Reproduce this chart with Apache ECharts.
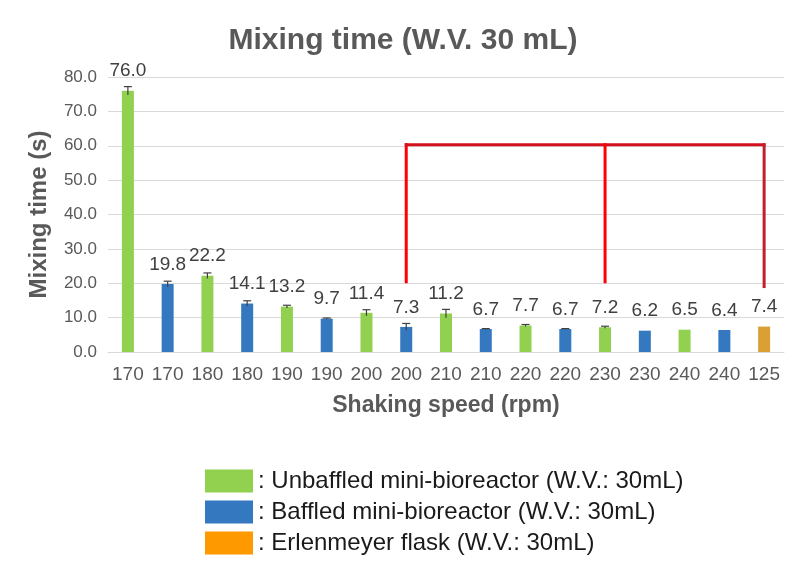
<!DOCTYPE html>
<html>
<head>
<meta charset="utf-8">
<script src="https://cdn.jsdelivr.net/npm/echarts@6/dist/echarts.min.js"></script>
<style>
  html, body { margin: 0; padding: 0; background: #fff; }
  #chart { width: 806px; height: 573px; }
</style>
</head>
<body>
<div id="chart"></div>
<script>
// shaking speed for each bar
const speeds = ['170', '170', '180', '180', '190', '190', '200', '200', '210', '210', '220', '220', '230', '230', '240', '240', '125']
// mixing time (s)
const mixTimes = [76.0, 19.8, 22.2, 14.1, 13.2, 9.7, 11.4, 7.3, 11.2, 6.7, 7.7, 6.7, 7.2, 6.2, 6.5, 6.4, 7.4]
// 0 = unbaffled, 1 = baffled, 2 = erlenmeyer
const vessel = [0, 1, 0, 1, 0, 1, 0, 1, 0, 1, 0, 1, 0, 1, 0, 1, 2]
// error bar (+/-)
const errors = [1.2, 0.8, 0.8, 0.8, 0.4, 0.2, 0.9, 1.0, 1.2, 0.1, 0.3, 0.1, 0.3, 0, 0, 0, 0]
const yTicks = [0, 10, 20, 30, 40, 50, 60, 70, 80]

const vesselNames = [
  'Unbaffled mini-bioreactor (W.V.: 30mL)',
  'Baffled mini-bioreactor (W.V.: 30mL)',
  'Erlenmeyer flask (W.V.: 30mL)'
]
const barColors = ['#92d050', '#3478bf', '#d9a035']
const legendColors = ['#92d050', '#3478bf', '#ff9900']

// red bracket: legs at category index, bottom value; shared top
const bracketLegs = [[7, 20.0], [12, 20.0], [16, 18.6]]
const bracketTop = 60.3

const chart = echarts.init(document.getElementById('chart'))

// one bar series per vessel type, placed on the same slot
const barSeries = vesselNames.map((name, g) => ({
  name,
  type: 'bar',
  barWidth: 12,
  barGap: '-100%',
  itemStyle: { color: barColors[g] },
  label: {
    show: true,
    position: 'top',
    distance: 10,
    fontSize: 19,
    color: '#404040',
    formatter: p => p.value.toFixed(1)
  },
  data: mixTimes.map((v, i) => vessel[i] === g ? v : '-')
}))

const errorSeries = {
  type: 'custom',
  silent: true,
  z: 5,
  data: mixTimes.map((v, i) => [i, v + errors[i], v - errors[i], errors[i]]),
  renderItem(params, api) {
    if (api.value(3) <= 0) return null
    const hi = api.coord([api.value(0), api.value(1)])
    const lo = api.coord([api.value(0), api.value(2)])
    const half = 4
    const style = { stroke: '#404040', lineWidth: 1.2 }
    return {
      type: 'group',
      children: [
        { type: 'line', shape: { x1: hi[0], y1: hi[1], x2: lo[0], y2: lo[1] }, style },
        { type: 'line', shape: { x1: hi[0] - half, y1: hi[1], x2: hi[0] + half, y2: hi[1] }, style }
      ]
    }
  }
}

const bracketSeries = {
  type: 'custom',
  silent: true,
  z: 6,
  data: bracketLegs.map((b, i) => [b[0], b[1], i]),
  renderItem(params, api) {
    const idx = api.value(2)
    const bottom = api.coord([api.value(0), api.value(1)])
    const top = api.coord([api.value(0), bracketTop])
    const children = [{
      type: 'line',
      shape: { x1: bottom[0], y1: bottom[1], x2: top[0], y2: top[1] - 1.5 },
      style: { stroke: idx === bracketLegs.length - 1 ? '#c0202a' : '#ff0000', lineWidth: 3 }
    }]
    if (idx === 0) {
      const last = bracketLegs[bracketLegs.length - 1]
      const end = api.coord([last[0], bracketTop])
      children.push({
        type: 'line',
        shape: { x1: top[0] - 1.5, y1: top[1], x2: end[0] + 1.5, y2: end[1] },
        style: { stroke: '#d4101c', lineWidth: 3 }
      })
    }
    return { type: 'group', children }
  }
}

chart.setOption({
  animation: false,
  textStyle: { fontFamily: 'Liberation Sans' },
  title: {
    text: 'Mixing time (W.V. 30 mL)',
    left: 'center',
    top: 21,
    textStyle: { fontSize: 30, fontWeight: 'bold', color: '#595959' }
  },
  legend: {
    orient: 'vertical',
    left: 200,
    top: 464,
    itemWidth: 48,
    itemHeight: 23,
    itemGap: 7,
    icon: 'rect',
    selectedMode: false,
    formatter: name => ': ' + name,
    textStyle: { fontSize: 24, lineHeight: 24, color: '#1a1a1a' },
    data: vesselNames.map((name, g) => ({ name, itemStyle: { color: legendColors[g] } }))
  },
  grid: { left: 108, right: 22, top: 77, bottom: 221 },
  xAxis: {
    type: 'category',
    data: speeds,
    name: 'Shaking speed (rpm)',
    nameLocation: 'middle',
    nameGap: 42,
    nameTextStyle: { fontSize: 23, fontWeight: 'bold', color: '#595959' },
    axisLine: { lineStyle: { color: '#d9d9d9' } },
    axisTick: { show: false },
    axisLabel: { fontSize: 19, color: '#595959', margin: 13, interval: 0 }
  },
  yAxis: {
    type: 'value',
    min: yTicks[0],
    max: yTicks[yTicks.length - 1],
    interval: yTicks[1] - yTicks[0],
    name: 'Mixing time (s)',
    nameLocation: 'middle',
    nameGap: 57,
    nameTextStyle: { fontSize: 24, fontWeight: 'bold', color: '#595959' },
    axisLabel: { fontSize: 17, color: '#595959', margin: 11, formatter: v => v.toFixed(1) },
    splitLine: { lineStyle: { color: '#d9d9d9' } }
  },
  series: [...barSeries, errorSeries, bracketSeries]
})
</script>
</body>
</html>
